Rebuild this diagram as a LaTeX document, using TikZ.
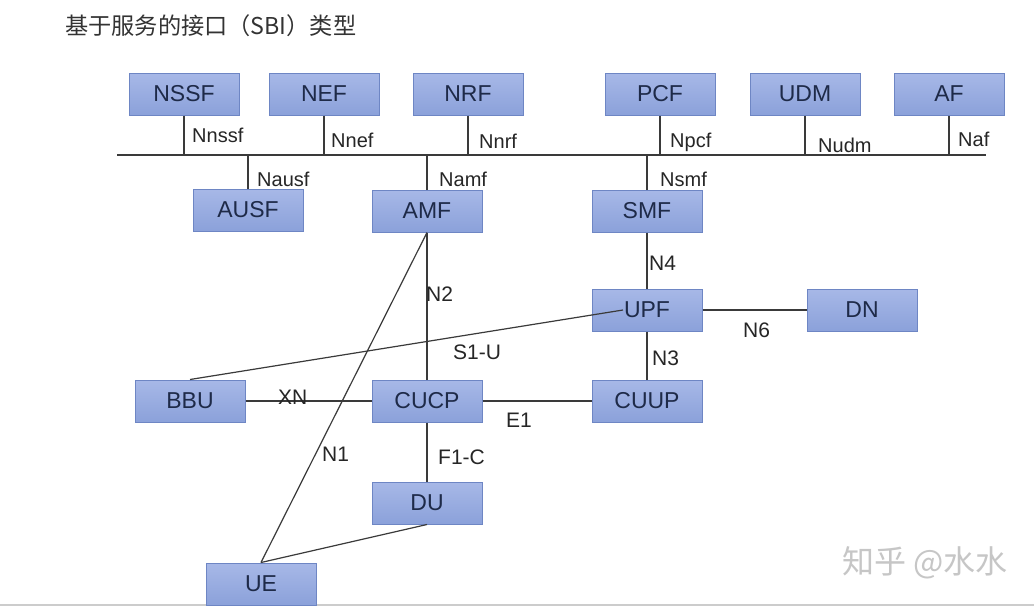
\documentclass[tikz,border=0pt]{standalone}
\usepackage{fontspec}
\setmainfont{Liberation Sans}
\newfontfamily\cjkfont{Noto Sans CJK SC}
\usepackage{xcolor}
\definecolor{SBIFillTop}{HTML}{A7B8E7}
\definecolor{SBIFillBot}{HTML}{8BA1DA}
\definecolor{SBIEdge}{HTML}{6E86C4}
\definecolor{SBIText}{HTML}{1E2A48}
\definecolor{SBILine}{HTML}{3A3A3A}
\definecolor{SBILabel}{HTML}{262626}
\usetikzlibrary{positioning,calc}

\begin{document}
\begin{tikzpicture}[
  x=1pt,y=-1pt,
  nf/.style={draw=SBIEdge,line width=1pt,top color=SBIFillTop,bottom color=SBIFillBot,minimum width=110pt,minimum height=42pt,inner sep=0pt,text=SBIText,font=\fontsize{23}{27}\selectfont},
  iflabel/.style={anchor=base west,inner sep=0pt,text=SBILabel,font=\fontsize{20}{24}\selectfont},
  raniflabel/.style={iflabel,font=\fontsize{21}{25}\selectfont},
  link/.style={draw=SBILine,line width=1.2pt}
]
  \useasboundingbox (0,0) rectangle (1034,606);
  \fill[white] (0,0) rectangle (1034,606);
  \fill[gray!40] (0,603.5) rectangle (1034,606);
  \node[anchor=base west,inner sep=0pt,text=black!80,font=\cjkfont\fontsize{23.2}{27}\selectfont] (title) at (65,34) {基于服务的接口（SBI）类型};

  \node[nf] (NSSF) at (184,94) {NSSF};
  \node[nf] (NEF) at (324,94) {NEF};
  \node[nf] (NRF) at (468,94) {NRF};
  \node[nf] (PCF) at (660,94) {PCF};
  \node[nf] (UDM) at (805,94) {UDM};
  \node[nf] (AF) at (949,94) {AF};
  \node[nf] (AUSF) at (248,210) {AUSF};
  \node[nf] (AMF) at (427,211) {AMF};
  \node[nf] (SMF) at (647,211) {SMF};
  \node[nf] (UPF) at (647,310) {UPF};
  \node[nf] (DN) at (862,310) {DN};
  \node[nf] (BBU) at (190,401) {BBU};
  \node[nf] (CUCP) at (427,401) {CUCP};
  \node[nf] (CUUP) at (647,401) {CUUP};
  \node[nf] (DU) at (427,503) {DU};
  \node[nf] (UE) at (261,584) {UE};

  \coordinate (busW) at (117,155);
  \coordinate (busE) at (986,155);
  \coordinate (S1end) at (623,310);

  \draw[link] (busW) -- (busE);
  \foreach \nfname in {NSSF,NEF,NRF,PCF,UDM,AF}
    \draw[link] (\nfname.south) -- (\nfname.south |- busW);
  \foreach \nfname in {AUSF,AMF,SMF}
    \draw[link] (\nfname.north) -- (\nfname.north |- busW);
  \draw[link] (SMF) -- (UPF);
  \draw[link] (UPF) -- (DN);
  \draw[link] (UPF) -- (CUUP);
  \draw[link] (AMF.south) -- (CUCP.north);
  \draw[link] (AMF.south) -- (UE.north);
  \draw[link] (BBU.north) -- (S1end);
  \draw[link] (BBU) -- (CUCP);
  \draw[link] (CUCP) -- (CUUP);
  \draw[link] (CUCP) -- (DU);
  \draw[link] (DU.south) -- (UE.north);

  \node[iflabel] (lNnssf) at (192,142) {Nnssf};
  \node[iflabel] (lNnef) at (331,147) {Nnef};
  \node[iflabel] (lNnrf) at (479,148) {Nnrf};
  \node[iflabel] (lNpcf) at (670,147) {Npcf};
  \node[iflabel] (lNudm) at (818,152) {Nudm};
  \node[iflabel] (lNaf) at (958,146) {Naf};
  \node[iflabel] (lNausf) at (257,186) {Nausf};
  \node[iflabel] (lNamf) at (439,186) {Namf};
  \node[iflabel] (lNsmf) at (660,186) {Nsmf};
  \node[raniflabel] (lN4) at (649,270) {N4};
  \node[raniflabel] (lN6) at (743,337) {N6};
  \node[raniflabel] (lN3) at (652,365) {N3};
  \node[raniflabel] (lN2) at (426,301) {N2};
  \node[raniflabel] (lS1U) at (453,359) {S1-U};
  \node[raniflabel] (lXN) at (278,404) {XN};
  \node[raniflabel] (lE1) at (506,427) {E1};
  \node[raniflabel] (lN1) at (322,461) {N1};
  \node[raniflabel] (lF1C) at (438,464) {F1-C};

  \node[inner sep=0pt,text=gray!45,font=\cjkfont\fontsize{32}{36}\selectfont] (mark) at (925,563) {知乎 @水水};
\end{tikzpicture}
\end{document}
